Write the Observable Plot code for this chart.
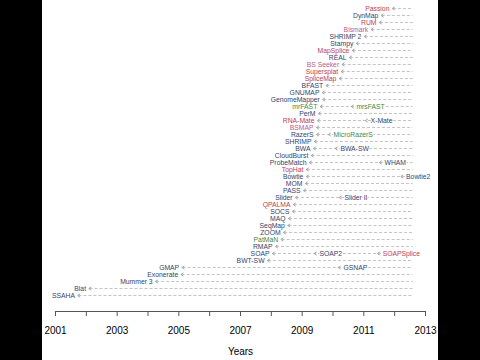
<!DOCTYPE html>
<html>
<head>
<meta charset="utf-8">
<script src="https://cdn.jsdelivr.net/npm/d3@7"></script>
<script src="https://cdn.jsdelivr.net/npm/@observablehq/plot@0.6"></script>
<style>
  html, body { margin: 0; padding: 0; background: #000; }
  #wrap { position: absolute; left: 42px; top: 0; width: 396px; height: 360px; background: #fff; }
</style>
</head>
<body>
<div id="wrap"></div>
<script>
// Primary tools (one row each, top to bottom)
const rowNames = ["Passion","DynMap","RUM","Bismark","SHRIMP 2","Stampy","MapSplice","REAL","BS Seeker","Supersplat","SpliceMap","BFAST","GNUMAP","GenomeMapper","mrFAST","PerM","RNA-Mate","BSMAP","RazerS","SHRIMP","BWA","CloudBurst","ProbeMatch","TopHat","Bowtie","MOM","PASS","Slider","QPALMA","SOCS","MAQ","SeqMap","ZOOM","PatMaN","RMAP","SOAP","BWT-SW","GMAP","Exonerate","Mummer 3","Blat","SSAHA"];
const rowYears = [2011.96,2011.60,2011.54,2011.27,2011.05,2010.79,2010.66,2010.57,2010.33,2010.30,2010.24,2009.81,2009.69,2009.70,2009.62,2009.56,2009.53,2009.50,2009.50,2009.43,2009.40,2009.33,2009.27,2009.17,2009.17,2009.14,2009.08,2008.82,2008.75,2008.72,2008.59,2008.57,2008.43,2008.35,2008.17,2008.07,2007.91,2005.14,2005.11,2004.28,2002.12,2001.76];
const rowGroups = ["rna","dna","rna","bis","dna","dna","rna","dna","bis","rna","rna","dna","dna","dna","small","dna","rna","bis","dna","dna","dna","dna","dna","rna","dna","dna","dna","dna","rna","dna","dna","dna","dna","small","dna","dna","dna","dna","dna","dna","dna","dna"];

// Later versions, sharing a row with their predecessor
const secNames = ["mrsFAST","X-Mate","MicroRazerS","BWA-SW","WHAM","Bowtie2","Slider II","SOAP2","SOAPSplice","GSNAP"];
const secRows = ["mrFAST","RNA-Mate","RazerS","BWA","ProbeMatch","Bowtie","Slider","SOAP","SOAP","GMAP"];
const secYears = [2010.63,2011.09,2009.89,2010.11,2011.54,2012.24,2010.24,2009.43,2011.48,2010.21];
const secGroups = ["small","dna","small","dna","dna","dna","dna","dna","rna","dna"];

const groupKeys = ["dna","rna","bis","small"];
const groupColors = ["#34446a","#c0414a","#b5628a","#3e8a48"];
const tickYears = d3.range(2001, 2014);
const lineEnd = 2012.6;

const rows = rowNames.map((name, i) => ({name, year: rowYears[i], group: rowGroups[i]}));
const sec = secNames.map((name, i) => ({name, row: secRows[i], year: secYears[i], group: secGroups[i]}));

const chevron = {
  draw(ctx, size) {
    const r = Math.sqrt(size / Math.PI);
    ctx.moveTo(r * 0.8, -r);
    ctx.lineTo(-r * 0.8, 0);
    ctx.lineTo(r * 0.8, r);
  }
};

const chart = Plot.plot({
  width: 396,
  height: 360,
  marginLeft: 13,
  marginRight: 13,
  marginTop: 0,
  marginBottom: 49,
  style: {fontFamily: "'Liberation Sans', Arial, Helvetica, sans-serif", background: "white", color: "black"},
  x: {domain: [2001, 2013]},
  y: {type: "point", domain: rowNames, range: [4, 298], axis: null},
  color: {domain: groupKeys, range: groupColors},
  marks: [
    Plot.ruleY(rows, {y: "name", x1: "year", x2: () => lineEnd, stroke: "#b5b5b5", strokeWidth: 0.8, strokeDasharray: "3,2"}),
    Plot.dot(rows, {x: "year", y: "name", symbol: chevron, r: 1.6, stroke: "#9a9a9a", fill: "none", strokeWidth: 0.9}),
    Plot.dot(sec, {x: "year", y: "row", symbol: chevron, r: 1.6, stroke: "#9a9a9a", fill: "none", strokeWidth: 0.9}),
    Plot.text(rows, {x: "year", y: "name", text: "name", textAnchor: "end", dx: -4, fill: "group", fontSize: 6.8}),
    Plot.text(sec, {x: "year", y: "row", text: "name", textAnchor: "start", dx: 4, fill: "group", fontSize: 6.8, stroke: "white", strokeWidth: 2}),
    Plot.frame({anchor: "bottom", stroke: "#555", strokeWidth: 1.2}),
    Plot.axisX({ticks: tickYears, tickSize: 5, tickPadding: 10, tickFormat: d => (d % 2 ? String(d) : ""), label: null, fontSize: 10, stroke: "#555", fill: "black"}),
    Plot.text(["Years"], {frameAnchor: "bottom", dy: 43, fontSize: 10, fill: "black"})
  ]
});
document.getElementById("wrap").appendChild(chart);
</script>
</body>
</html>
